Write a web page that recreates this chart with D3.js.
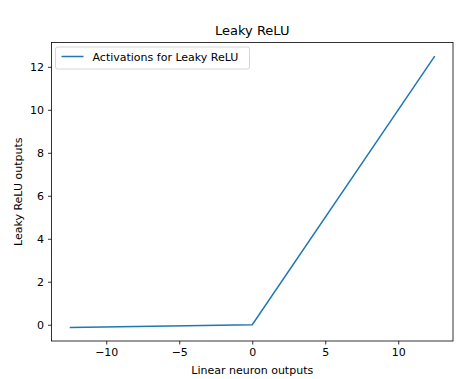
<!DOCTYPE html>
<html>
<head>
<meta charset="utf-8">
<script src="https://cdn.jsdelivr.net/npm/d3@7"></script>
<style>
  body { margin: 0; background: #fff; }
  #chart { width: 474px; height: 379px; }
  text { font-family: "DejaVu Sans", sans-serif; fill: #000; }
</style>
</head>
<body>
<div id="chart"></div>
<script>
// leaky relu, alpha = 0.01
const xValues = [-12.5, 0, 12.5];
const yValues = [-0.125, 0, 12.5];
const xTicks = [-10, -5, 0, 5, 10];
const yTicks = [0, 2, 4, 6, 8, 10, 12];

const width = 474;
const height = 379;

const margin = { top: 42.5, left: 51.5, right: 21, bottom: 38 };

const svg = d3.select("#chart")
    .append("svg")
    .attr("width", width)
    .attr("height", height);

const xScale = d3.scaleLinear()
    .domain([-13.75, 13.75])
    .range([margin.left, width - margin.right]);

const yScale = d3.scaleLinear()
    .domain([-0.756, 13.131])
    .range([height - margin.bottom, margin.top]);

const xAxis = svg.append("g")
    .attr("transform", "translate(0," + (height - margin.bottom) + ")")
    .call(d3.axisBottom(xScale).tickValues(xTicks).tickSize(3.5).tickPadding(4)
        .tickFormat(d => d < 0 ? "\u2212" + Math.abs(d) : d));

const yAxis = svg.append("g")
    .attr("transform", "translate(" + margin.left + ",0)")
    .call(d3.axisLeft(yScale).tickValues(yTicks).tickSize(3.5).tickPadding(4));

[xAxis, yAxis].forEach(function(g) {
    g.select(".domain").remove();
    g.selectAll("text").style("font-size", "11px").attr("font-family", "DejaVu Sans");
    g.selectAll("line").attr("stroke", "#000").attr("stroke-width", 0.8);
});

const points = xValues.map((x, i) => [x, yValues[i]]);

svg.append("path")
    .datum(points)
    .attr("fill", "none")
    .attr("stroke", "#1f77b4")
    .attr("stroke-width", 1.5)
    .attr("d", d3.line().x(d => xScale(d[0])).y(d => yScale(d[1])));

// frame
svg.append("rect")
    .attr("x", margin.left)
    .attr("y", margin.top)
    .attr("width", width - margin.right - margin.left)
    .attr("height", height - margin.bottom - margin.top)
    .attr("fill", "none")
    .attr("stroke", "#000")
    .attr("stroke-width", 0.8);

// legend
const legend = svg.append("g").attr("transform", "translate(" + (margin.left + 4) + "," + (margin.top + 4.5) + ")");
legend.append("rect")
    .attr("x", 0).attr("y", 0)
    .attr("width", 194).attr("height", 22)
    .attr("rx", 2)
    .attr("fill", "#fff")
    .attr("fill-opacity", 0.8)
    .attr("stroke", "#ccc")
    .attr("stroke-width", 0.8);
legend.append("line")
    .attr("x1", 6).attr("x2", 28)
    .attr("y1", 9.5).attr("y2", 9.5)
    .attr("stroke", "#1f77b4")
    .attr("stroke-width", 1.5);
legend.append("text")
    .attr("x", 37).attr("y", 14)
    .style("font-size", "11px")
    .text("Activations for Leaky ReLU");

svg.append("text")
    .attr("x", (margin.left + width - margin.right) / 2)
    .attr("y", 35)
    .attr("text-anchor", "middle")
    .style("font-size", "13px")
    .text("Leaky ReLU");

svg.append("text")
    .attr("x", (margin.left + width - margin.right) / 2)
    .attr("y", 374)
    .attr("text-anchor", "middle")
    .style("font-size", "11px")
    .text("Linear neuron outputs");

svg.append("text")
    .attr("transform", "rotate(-90)")
    .attr("x", -(margin.top + height - margin.bottom) / 2)
    .attr("y", 22)
    .attr("text-anchor", "middle")
    .style("font-size", "11px")
    .text("Leaky ReLU outputs");
</script>
</body>
</html>
